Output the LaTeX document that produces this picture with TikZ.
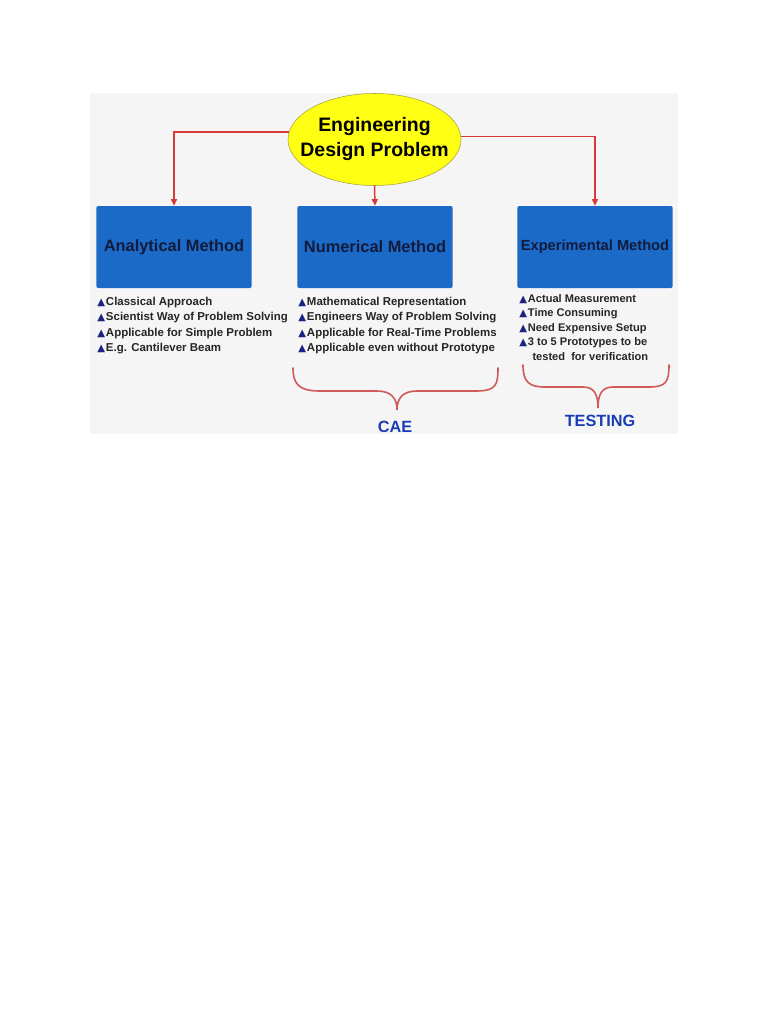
\documentclass[tikz,border=0pt]{standalone}
\usepackage{fontspec}
\setmainfont{Liberation Sans}
\newfontfamily\dejavu{DejaVu Sans}
\usetikzlibrary{shapes.geometric,arrows.meta}
\definecolor{bgrey}{HTML}{F5F5F5}
\definecolor{boxblue}{HTML}{1B6AC8}
\definecolor{boxtext}{HTML}{131B3C}
\definecolor{arrred}{HTML}{D83A3A}
\definecolor{bracered}{HTML}{D05A5A}
\definecolor{navy}{HTML}{1A2380}
\definecolor{lblblue}{HTML}{1A3CB4}
\definecolor{ellyellow}{HTML}{FFFF14}
\newcommand\tri{{\color{navy}\dejavu\fontsize{7.6}{7.6}\selectfont ▲}\hspace{0.08em}}
\tikzset{
  methodbox/.style={draw=none, fill=boxblue, rounded corners=1.5pt,
    minimum width=116.5pt, minimum height=61.5pt, inner sep=0pt,
    text=boxtext, font=\bfseries\fontsize{12.3}{14}\selectfont},
  bulletlist/.style={anchor=north west, inner sep=0pt, align=left,
    text=black!85, font=\bfseries\fontsize{8.6}{11.5}\selectfont},
  arr/.style={draw=arrred, line width=1.1pt, -{Triangle[length=5pt,width=4.5pt]}},
  bracepath/.style={draw=bracered, line width=1.2pt, line cap=round},
  lbl/.style={text=lblblue, font=\bfseries\fontsize{12.2}{14}\selectfont, inner sep=0pt}
}
\begin{document}
\begin{tikzpicture}[x=0.75pt, y=-0.75pt]
\useasboundingbox (0,0) rectangle (768,1024);
\fill[white] (0,0) rectangle (768,1024);
\fill[bgrey] (90,93) rectangle (678,434);

\node[ellipse, fill=ellyellow, draw=yellow!60!black, line width=0.4pt,
  minimum width=129.75pt, minimum height=69pt, inner xsep=-10pt, inner ysep=0pt, align=center,
  font=\bfseries\fontsize{14.6}{18.75}\selectfont, text=black]
  (ell) at (374.5,139.5) {Engineering\\Design Problem};

\node[methodbox] (ana) at (174,247) {Analytical Method};
\node[methodbox] (num) at (375,247) {Numerical Method};
\node[methodbox, font=\bfseries\fontsize{11}{13}\selectfont] (exp) at (595,247) {Experimental Method};

\draw[arr] (ell.175) -| (ana.north);
\draw[arr] (ell.south) -- (num.north);
\draw[arr] (ell.2) -| (exp.north);

\node[bulletlist] (l1) at (97,297) {\tri Classical Approach\\
\tri Scientist Way of Problem Solving\\
\tri Applicable for Simple Problem\\
\tri E.g. Cantilever Beam};

\node[bulletlist] (l2) at (298,297) {\tri Mathematical Representation\\
\tri Engineers Way of Problem Solving\\
\tri Applicable for Real-Time Problems\\
\tri Applicable even without Prototype};

\node[bulletlist, font=\bfseries\fontsize{8.3}{10.9}\selectfont] (l3) at (519,294) {\tri Actual Measurement\\
\tri Time Consuming\\
\tri Need Expensive Setup\\
\tri 3 to 5 Prototypes to be\\
\hspace*{1.2em}tested\ \ for verification};

\draw[bracepath] (293,368) .. controls (293,385) and (300,391) .. (320,391)
  -- (377,391) .. controls (391,391) and (397,398) .. (397,410)
  .. controls (397,398) and (403,391) .. (417,391)
  -- (476,391) .. controls (496,391) and (498,385) .. (498,368);

\draw[bracepath] (523,365) .. controls (523,382) and (529,387) .. (545,387)
  -- (583,387) .. controls (594,387) and (598,394) .. (598,408)
  .. controls (598,394) and (602,387) .. (613,387)
  -- (649,387) .. controls (666,387) and (669,382) .. (669,365);

\node[lbl] (cae) at (395,427) {CAE};
\node[lbl] (testing) at (600,421) {TESTING};
\end{tikzpicture}
\end{document}
